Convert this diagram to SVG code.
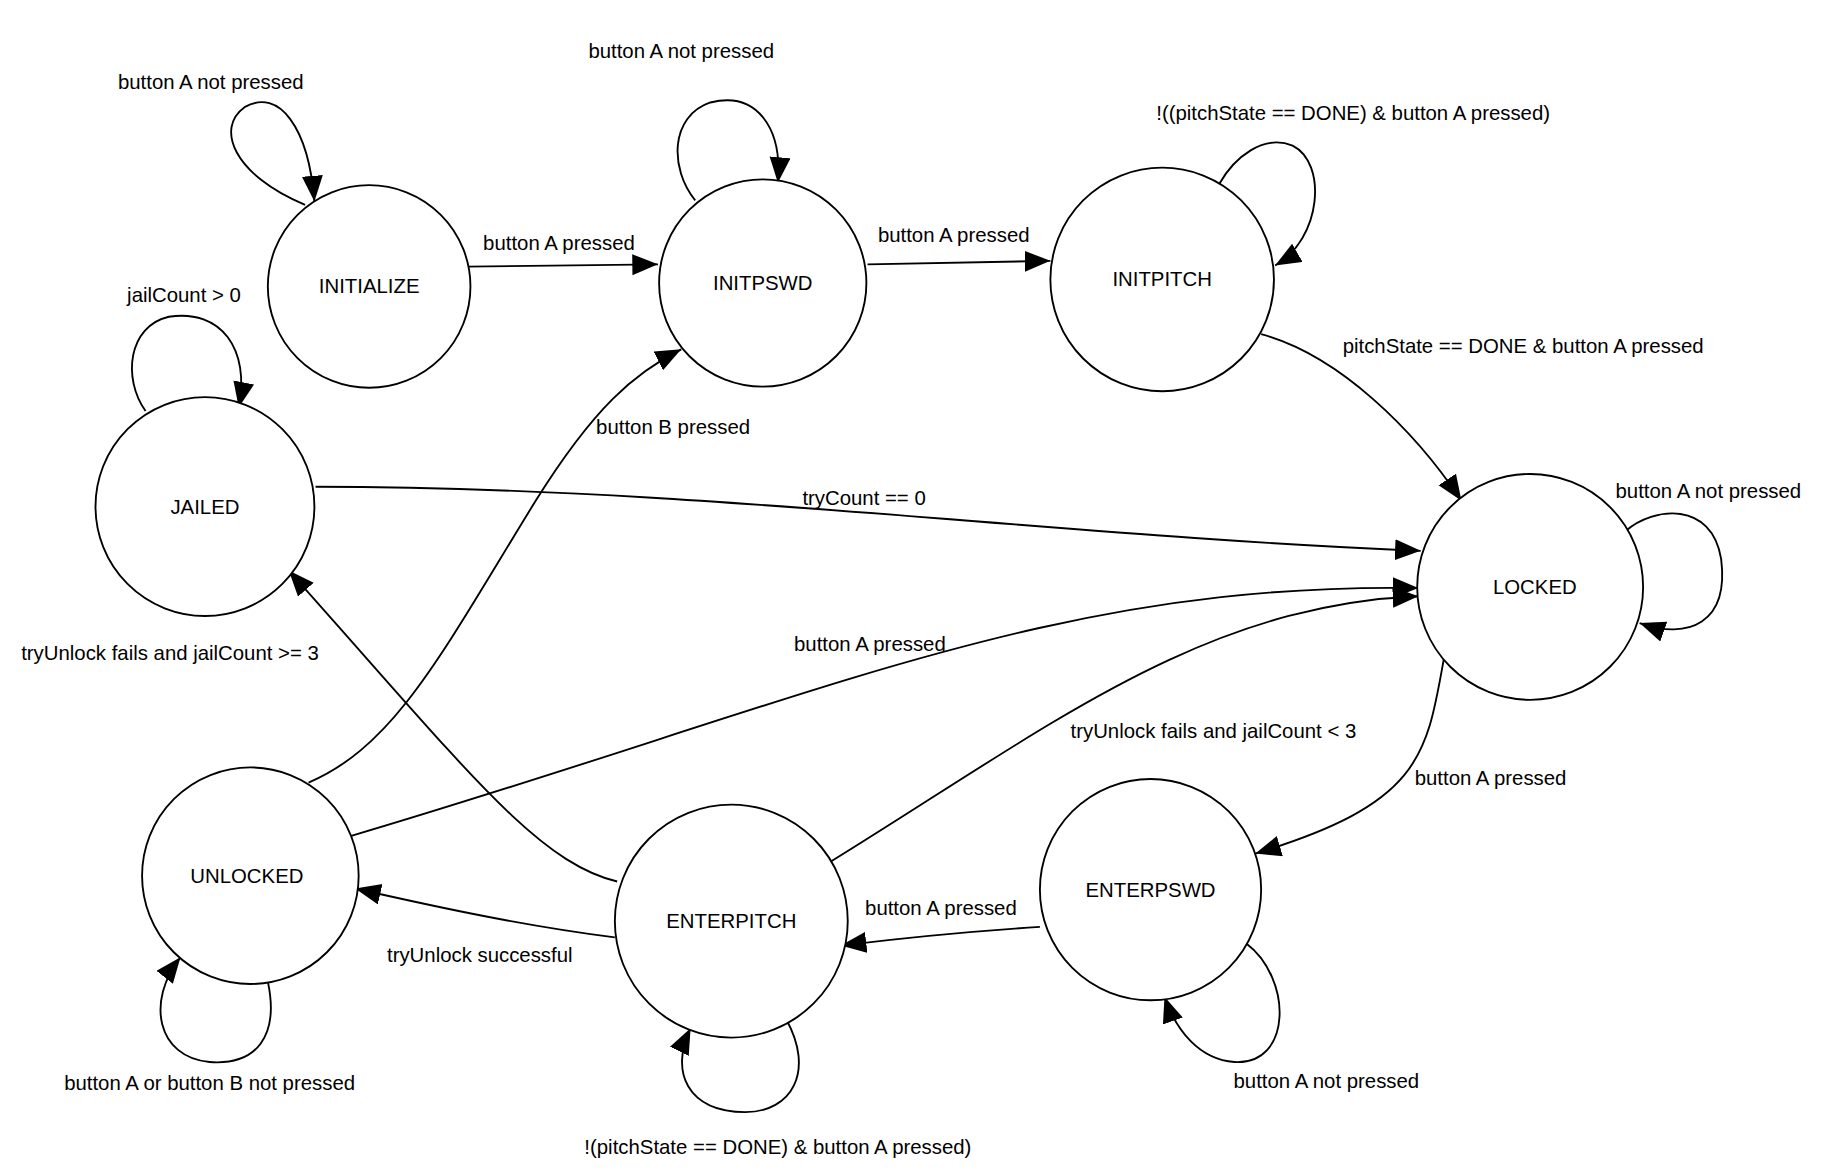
<svg xmlns="http://www.w3.org/2000/svg" width="1824" height="1172" viewBox="0 0 1824 1172">
<defs>
<marker id="ah" markerUnits="userSpaceOnUse" markerWidth="24" markerHeight="20" refX="22" refY="9" orient="auto"><path d="M0,0 L22,9 L0,18 Z" fill="#000"/></marker>
<style>
circle{fill:#fff;stroke:#000;stroke-width:1.6}
text{font-family:"Liberation Sans",Arial,sans-serif;font-size:17.5px;text-anchor:middle;fill:#000}
.e path{fill:none;stroke:#000;stroke-width:1.6;marker-end:url(#ah)}
</style>
</defs>
<rect width="1824" height="1172" fill="#fff"/>
<g transform="scale(1.1645)">
<g class="e" id="edges">
<path d="M262,176 C200,150 185,110 210,92 C240,75 265,110 270,173"/>
<text x="181" y="76">button A not pressed</text>
<path d="M401,229 L565,227"/>
<text x="480" y="215">button A pressed</text>
<path d="M597,172 C575,145 575,100 610,88 C650,78 672,110 668,157"/>
<text x="585" y="50">button A not pressed</text>
<path d="M745,227 L902,224"/>
<text x="819" y="208">button A pressed</text>
<path d="M1047,158 C1060,135 1085,115 1110,125 C1140,140 1135,205 1095,228"/>
<text x="1162" y="103">!((pitchState == DONE) &amp; button A pressed)</text>
<path d="M1083,287 C1150,305 1215,370 1255,430"/>
<text x="1308" y="303">pitchState == DONE &amp; button A pressed</text>
<path d="M1396,456 C1420,435 1470,430 1478,480 C1485,535 1450,550 1408,535"/>
<text x="1467" y="428">button A not pressed</text>
<path d="M125,353 C105,325 110,280 145,272 C190,265 215,300 205,350"/>
<text x="158" y="259">jailCount &gt; 0</text>
<path d="M271,418 C600,418 900,460 1220,473"/>
<text x="742" y="434">tryCount == 0</text>
<path d="M301,718 C700,600 900,500 1218,505"/>
<text x="747" y="559">button A pressed</text>
<path d="M710,742 C900,625 1030,520 1218,512"/>
<text x="1042" y="634">tryUnlock fails and jailCount &lt; 3</text>
<path d="M265,672 C340,640 380,560 460,430 C510,350 545,320 585,300"/>
<text x="578" y="373">button B pressed</text>
<path d="M530,757 C460,740 400,660 248,490"/>
<text x="146" y="567">tryUnlock fails and jailCount &gt;= 3</text>
<path d="M1240,565 C1225,650 1220,690 1078,733"/>
<text x="1280" y="674">button A pressed</text>
<path d="M893,796 C830,800 780,805 722,812"/>
<text x="808" y="786">button A pressed</text>
<path d="M528,805 C450,795 380,780 305,763"/>
<text x="412" y="826">tryUnlock successful</text>
<path d="M230,843 C240,890 220,915 180,912 C135,908 125,860 155,822"/>
<text x="180" y="936">button A or button B not pressed</text>
<path d="M675,875 C700,920 680,955 640,955 C590,955 575,920 593,883"/>
<text x="668" y="991">!(pitchState == DONE) &amp; button A pressed)</text>
<path d="M1070,810 C1110,840 1110,915 1060,912 C1030,910 1010,885 1000,856"/>
<text x="1139" y="934">button A not pressed</text>
</g>
<g id="INITIALIZE"><circle cx="317" cy="246" r="87"/><text x="317" y="252">INITIALIZE</text></g>
<g id="INITPSWD"><circle cx="655" cy="243" r="89"/><text x="655" y="249">INITPSWD</text></g>
<g id="INITPITCH"><circle cx="998" cy="240" r="96"/><text x="998" y="246">INITPITCH</text></g>
<g id="JAILED"><circle cx="176" cy="435" r="94"/><text x="176" y="441">JAILED</text></g>
<g id="LOCKED"><circle cx="1314" cy="504" r="97"/><text x="1318" y="510">LOCKED</text></g>
<g id="UNLOCKED"><circle cx="215" cy="752" r="93"/><text x="212" y="758">UNLOCKED</text></g>
<g id="ENTERPITCH"><circle cx="628" cy="791" r="100"/><text x="628" y="797">ENTERPITCH</text></g>
<g id="ENTERPSWD"><circle cx="988" cy="764" r="95"/><text x="988" y="770">ENTERPSWD</text></g>
</g>
</svg>
